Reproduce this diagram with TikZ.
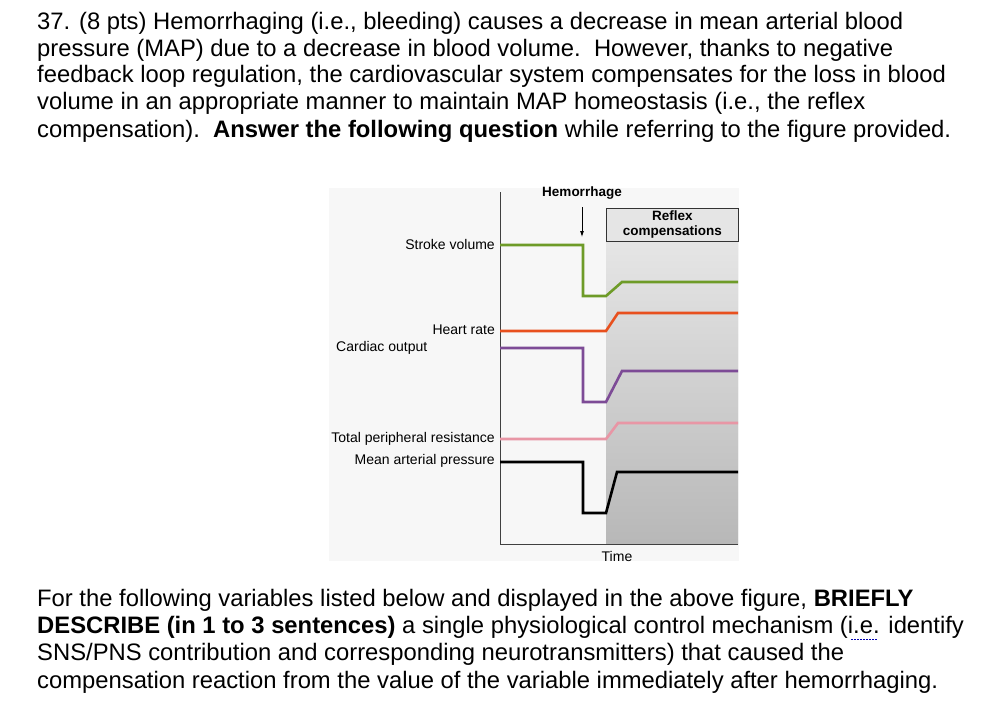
\documentclass[tikz,border=0pt]{standalone}
\usepackage{fontspec}
\setmainfont{Liberation Sans}
\usetikzlibrary{arrows.meta}
\begin{document}
\begin{tikzpicture}[x=1pt,y=-1pt,
  para/.style={anchor=base west,inner sep=0,font=\fontsize{23.8}{28}\selectfont},
  lab/.style={inner sep=0,font=\fontsize{14}{16}\selectfont},
  curve/.style={line width=2.6pt,line join=miter}]
\useasboundingbox (0,0) rectangle (990,706);
\fill[white] (0,0) rectangle (990,706);
% text
\node[para] (t1) at (37,30) {37. (8 pts) Hemorrhaging (i.e., bleeding) causes a decrease in mean arterial blood};
\node[para] (t2) at (37,56.5) {pressure (MAP) due to a decrease in blood volume.\ \ However, thanks to negative};
\node[para] (t3) at (37,83) {feedback loop regulation, the cardiovascular system compensates for the loss in blood};
\node[para] (t4) at (37,109.5) {volume in an appropriate manner to maintain MAP homeostasis (i.e., the reflex};
\node[para] (t5) at (37,137) {compensation).\ \ \textbf{Answer the following question} while referring to the figure provided.};
\node[para] (b1) at (37,606) {For the following variables listed below and displayed in the above figure, \textbf{BRIEFLY}};
\node[para] (b2) at (37,633) {\textbf{DESCRIBE (in 1 to 3 sentences)} a single physiological control mechanism (i.e. identify};
\node[para] (b3) at (37,660) {SNS/PNS contribution and corresponding neurotransmitters) that caused the};
\node[para] (b4) at (37,688) {compensation reaction from the value of the variable immediately after hemorrhaging.};
\draw[blue!70!black,line width=1pt,dash pattern=on 2pt off 1pt] (851,639) -- (877,639);
% figure
\fill[black!3] (329,188) rectangle (739,561);
\shade[top color=black!10,bottom color=black!28] (606,241) rectangle (738,544);
\node[draw=black!80,fill=black!10,line width=0.8pt,minimum width=132pt,minimum height=33pt,anchor=north west,align=center,inner sep=0,font=\bfseries\fontsize{13.5}{15}\selectfont] (rc) at (606,208) {Reflex\\compensations};
\draw[black!75,line width=1pt] (500,192) -- (500,544) -- (738,544);
\node[lab,font=\bfseries\fontsize{13.5}{15}\selectfont] (hem) at (582,193) {Hemorrhage};
\coordinate (ar) at (582,237);
\draw[-{Latex[length=6pt,width=4pt]},line width=0.8pt] (582,207) -- (ar);
\node[lab,anchor=east] (sv) at (495,244) {Stroke volume};
\node[lab,anchor=east] (hr) at (495,330) {Heart rate};
\node[lab,anchor=west] (co) at (336,348) {Cardiac output};
\node[lab,anchor=east] (tpr) at (495,439) {Total peripheral resistance};
\node[lab,anchor=east] (map) at (495,461) {Mean arterial pressure};
\node[lab] (time) at (617,556) {Time};
\draw[curve,color={rgb,255:red,110;green,155;blue,40}] (500,245) -- (583,245) -- (583,296) -- (606,296) -- (622,282) -- (738,282);
\draw[curve,color={rgb,255:red,232;green,80;blue,30}] (500,331) -- (606,331) -- (618,313) -- (738,313);
\draw[curve,color={rgb,255:red,125;green,75;blue,150}] (500,348) -- (583,348) -- (583,402) -- (606,402) -- (622,371) -- (738,371);
\draw[curve,color={rgb,255:red,232;green,150;blue,165}] (500,439) -- (606,439) -- (618,423) -- (738,423);
\draw[curve,black] (500,462) -- (583,462) -- (583,513) -- (606,513) -- (617,472) -- (738,472);
\end{tikzpicture}
\end{document}
